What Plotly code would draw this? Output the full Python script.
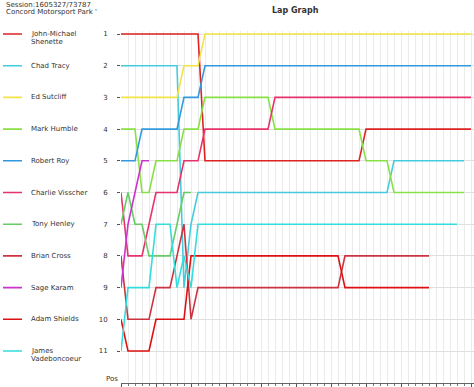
import plotly.graph_objects as go

# ---------------- data ----------------
drivers = [
    "John-Michael Shenette", "Chad Tracy", "Ed Sutcliff", "Mark Humble",
    "Robert Roy", "Charlie Visscher", "Tony Henley", "Brian Cross",
    "Sage Karam", "Adam Shields", "James Vadeboncoeur",
]
colors = [
    "#dd2222", "#44ccdd", "#f2e444", "#88e044",
    "#3399dd", "#e6336b", "#66cc66", "#cc3340",
    "#cc33cc", "#dd1111", "#33dddd",
]

# race position at each lap (index = lap number, lap 0 = grid)
pos_shenette = [1, 1, 1, 1, 1, 1, 1, 1, 1, 1, 1, 1,
                5, 5, 5, 5, 5, 5, 5, 5, 5, 5, 5, 5, 5, 5, 5, 5, 5, 5, 5, 5, 5, 5, 5,
                4, 4, 4, 4, 4, 4, 4, 4, 4, 4, 4, 4, 4, 4, 4, 4]
pos_tracy = [2, 2, 2, 2, 2, 2, 2, 2, 2, 9, 7,
             6, 6, 6, 6, 6, 6, 6, 6, 6, 6, 6, 6, 6, 6, 6, 6, 6, 6, 6, 6, 6, 6, 6, 6, 6, 6, 6, 6,
             5, 5, 5, 5, 5, 5, 5, 5, 5, 5, 5]
pos_sutcliff = [3, 3, 3, 3, 3, 3, 3, 3, 3, 2, 2, 2,
                1, 1, 1, 1, 1, 1, 1, 1, 1, 1, 1, 1, 1, 1, 1, 1, 1, 1, 1, 1, 1, 1, 1,
                1, 1, 1, 1, 1, 1, 1, 1, 1, 1, 1, 1, 1, 1, 1, 1]
pos_humble = [4, 4, 4, 6, 6, 5, 5, 5, 5, 4, 4, 4,
              3, 3, 3, 3, 3, 3, 3, 3, 3, 3,
              4, 4, 4, 4, 4, 4, 4, 4, 4, 4, 4, 4, 4,
              5, 5, 5, 5,
              6, 6, 6, 6, 6, 6, 6, 6, 6, 6, 6]
pos_roy = [5, 5, 5, 4, 4, 4, 4, 4, 4, 3, 3, 3,
           2, 2, 2, 2, 2, 2, 2, 2, 2, 2, 2, 2, 2, 2, 2, 2, 2, 2, 2, 2, 2, 2, 2,
           2, 2, 2, 2, 2, 2, 2, 2, 2, 2, 2, 2, 2, 2, 2, 2]
pos_visscher = [6, 8, 8, 8, 7, 6, 6, 6, 6, 5, 5, 5,
                4, 4, 4, 4, 4, 4, 4, 4, 4, 4,
                3, 3, 3, 3, 3, 3, 3, 3, 3, 3, 3, 3, 3, 3, 3, 3, 3, 3, 3, 3, 3, 3, 3,
                3, 3, 3, 3, 3, 3]
pos_henley = [7, 6, 7, 7, 8, 8, 8, 8, 7, 6, 6]
pos_cross = [8, 10, 10, 10, 10, 9, 9, 9, 8, 7, 10,
             9, 9, 9, 9, 9, 9, 9, 9, 9, 9, 9, 9, 9, 9, 9, 9, 9, 9, 9, 9, 9,
             8, 8, 8, 8, 8, 8, 8, 8, 8, 8, 8, 8, 8]
pos_karam = [9, 7, 6, 5, 5]
pos_shields = [10, 11, 11, 11, 11, 10, 10, 10, 10, 10, 8,
               8, 8, 8, 8, 8, 8, 8, 8, 8, 8, 8, 8, 8, 8, 8, 8, 8, 8, 8, 8, 8,
               9, 9, 9, 9, 9, 9, 9, 9, 9, 9, 9, 9, 9]
pos_vadeboncoeur = [11, 9, 9, 9, 9, 7, 7, 7, 9, 8, 9,
                    7, 7, 7, 7, 7, 7, 7, 7, 7, 7, 7, 7, 7, 7, 7, 7, 7, 7, 7, 7, 7, 7, 7,
                    7, 7, 7, 7, 7, 7, 7, 7, 7, 7, 7, 7, 7, 7, 7]

positions = [pos_shenette, pos_tracy, pos_sutcliff, pos_humble, pos_roy,
             pos_visscher, pos_henley, pos_cross, pos_karam, pos_shields,
             pos_vadeboncoeur]

y_tick_vals = list(range(1, 12))
y_tick_text = [str(v) for v in y_tick_vals]
session_lines = ["Session:1605327/73787", "Concord Motorsport Park '"]
title_text = "Lap Graph"
pos_label = "Pos"

# ---------------- layout constants ----------------
W, H = 474, 387
PLOT_L = 121          # px of lap 0
PX_PER_LAP = 7.0
Y_BOTTOM_PX = 382.7   # px (from top) of position 12 (axis line)
PX_PER_POS = 31.7
Y_TOP_POS = 0.92
FONT = "DejaVu Sans"
TXT = "#333333"

x_max = (W - PLOT_L) / PX_PER_LAP
y_top_px = Y_BOTTOM_PX - PX_PER_POS * (12 - Y_TOP_POS)
ydom = [(H - Y_BOTTOM_PX) / H, (H - y_top_px) / H]

fig = go.Figure()

for name, col, pos in zip(drivers, colors, positions):
    fig.add_trace(go.Scatter(
        x=list(range(len(pos))), y=pos, mode="lines", name=name,
        line=dict(color=col, width=1.6), xaxis="x", yaxis="y",
        hoverinfo="name+y", showlegend=False,
    ))

# side legend: one entry per grid position (lap-0 position)
annotations = []
for name, col, pos in zip(drivers, colors, positions):
    grid = pos[0]
    fig.add_trace(go.Scatter(
        x=[3, 22], y=[grid, grid], mode="lines",
        line=dict(color=col, width=1.6), xaxis="x2", yaxis="y2",
        hoverinfo="skip", showlegend=False,
    ))
    if len(name) > 16:
        parts = name.rsplit(" ", 1)
    else:
        parts = [name]
    for i, part in enumerate(parts):
        annotations.append(dict(
            x=29, y=grid, xref="x2", yref="y2", text=part, showarrow=False,
            xanchor="left", yanchor="middle", yshift=-7.5 * i,
            font=dict(family=FONT, size=7, color=TXT),
        ))

annotations.append(dict(
    x=104, y=12, xref="x2", yref="y2", text=pos_label, showarrow=False,
    xanchor="left", yanchor="middle", yshift=4,
    font=dict(family=FONT, size=7, color=TXT),
))
for i, line in enumerate(session_lines):
    annotations.append(dict(
        x=4 / W, y=1 - (5 + 7.3 * i) / H, xref="paper", yref="paper",
        text=line, showarrow=False, xanchor="left", yanchor="middle",
        font=dict(family=FONT, size=7, color=TXT),
    ))
annotations.append(dict(
    x=295 / W, y=1 - 10 / H, xref="paper", yref="paper",
    text="<b>" + title_text + "</b>", showarrow=False,
    xanchor="center", yanchor="middle",
    font=dict(family=FONT, size=8, color=TXT),
))

fig.update_layout(
    width=W, height=H,
    margin=dict(l=0, r=0, t=0, b=0),
    paper_bgcolor="white", plot_bgcolor="white",
    showlegend=False,
    font=dict(family=FONT, size=7, color=TXT),
    xaxis=dict(
        domain=[PLOT_L / W, 1], range=[0, x_max], anchor="y",
        showticklabels=False, zeroline=False,
        tick0=0, dtick=5, ticks="outside", ticklen=4, tickcolor="#555555",
        showgrid=True, gridcolor="#ebebeb", gridwidth=1,
        minor=dict(dtick=1, ticks="outside", ticklen=2, tickcolor="#777777",
                   showgrid=True, gridcolor="#ebebeb", gridwidth=1),
        showline=True, linecolor="#666666", linewidth=1,
    ),
    yaxis=dict(
        domain=ydom, range=[12, Y_TOP_POS], anchor="x",
        tickmode="array", tickvals=y_tick_vals, ticktext=y_tick_text,
        ticks="outside", ticklen=3, tickcolor="#555555",
        ticklabelstandoff=8,
        showgrid=True, gridcolor="#e0e0e0", gridwidth=1,
        zeroline=False, showline=False,
        tickfont=dict(family=FONT, size=7, color=TXT),
    ),
    xaxis2=dict(domain=[0, PLOT_L / W], range=[0, PLOT_L], anchor="y2",
                visible=False, fixedrange=True),
    yaxis2=dict(domain=ydom, range=[12, Y_TOP_POS], anchor="x2",
                visible=False, fixedrange=True),
    annotations=annotations,
)

fig.write_html(
    "out.html",
    config={"displayModeBar": False},
    post_script="document.body.style.margin='0';document.body.style.padding='0';",
)
